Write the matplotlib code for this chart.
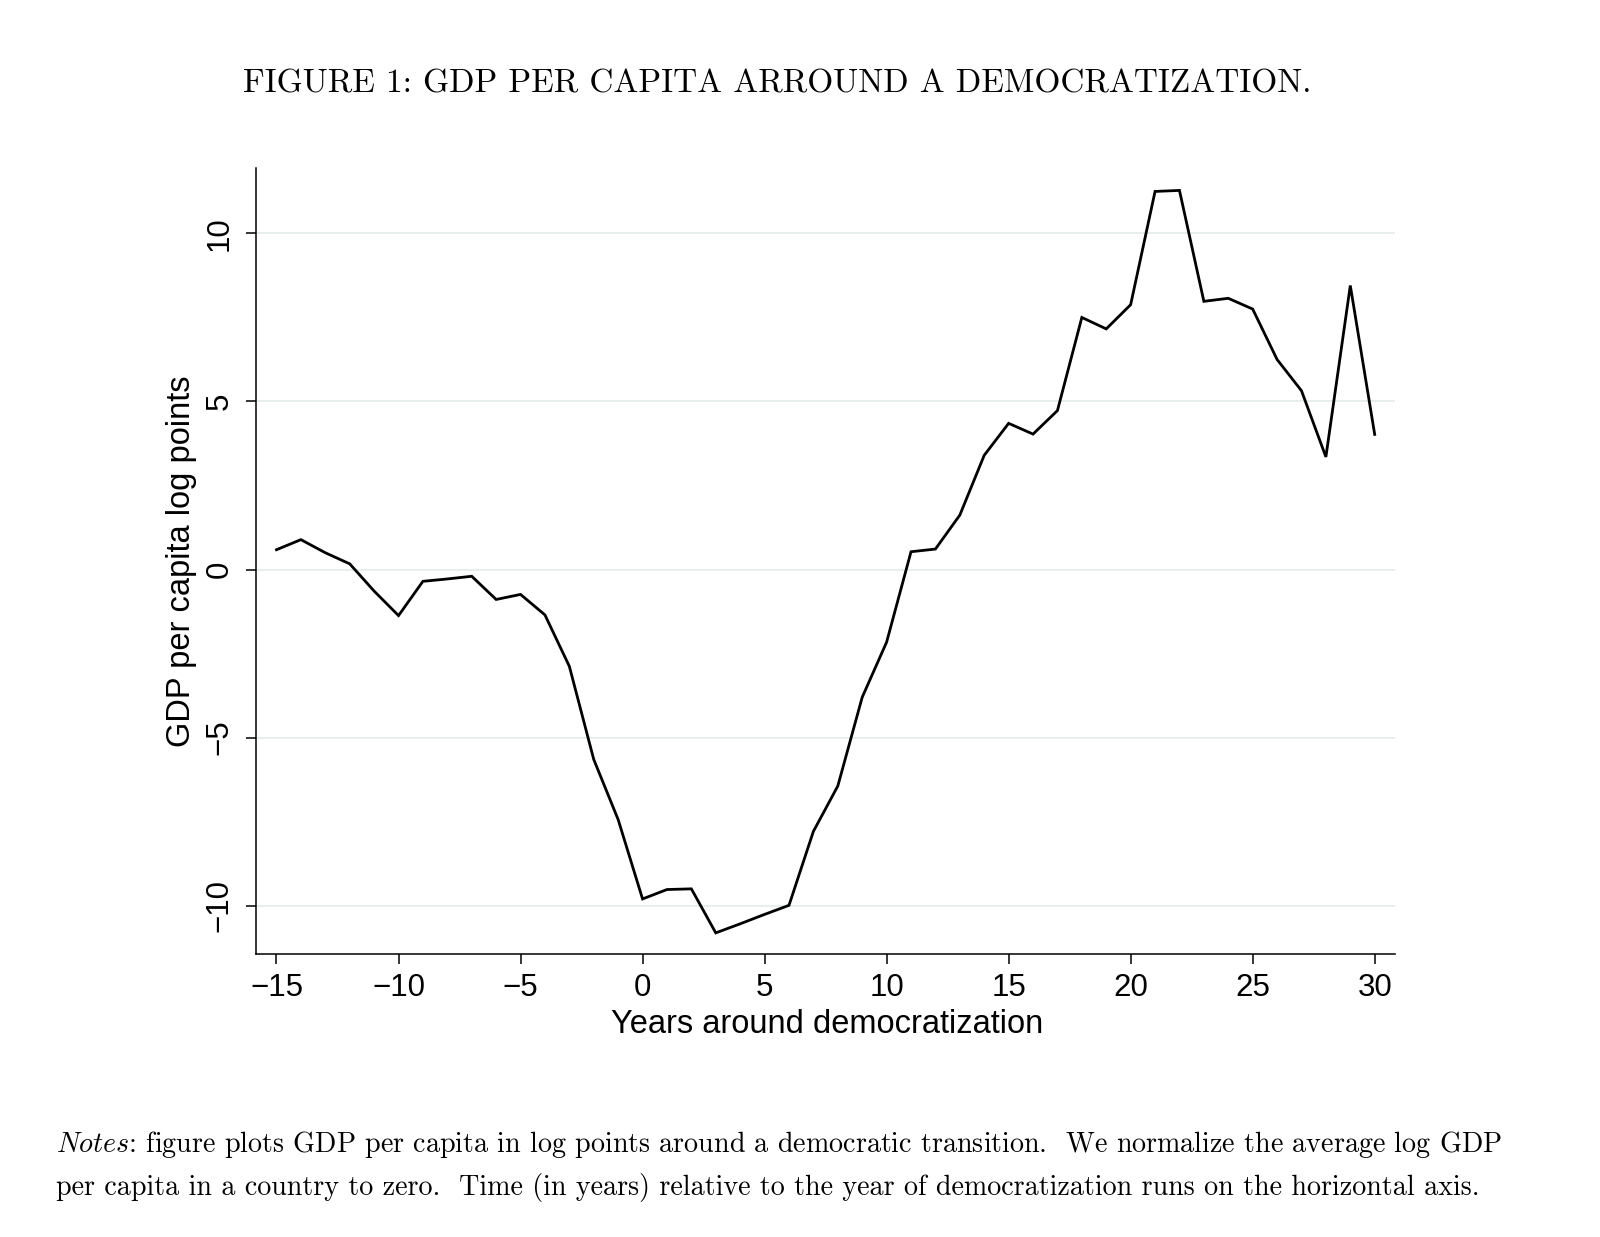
"""
GDP per capita around a democratization (Stata-style line chart)
"""
import matplotlib
matplotlib.use('Agg')
import matplotlib.pyplot as plt

years = list(range(-15, 31))
gdp_log_points = [
    0.59, 0.89, 0.50, 0.17, -0.64, -1.37, -0.35, -0.28, -0.20, -0.89,
    -0.74, -1.35, -2.88, -5.65, -7.44, -9.80, -9.52, -9.50, -10.81, -10.54,
    -10.26, -9.99, -7.79, -6.44, -3.80, -2.16, 0.53, 0.61, 1.62, 3.40,
    4.35, 4.03, 4.73, 7.50, 7.16, 7.88, 11.25, 11.28, 7.98, 8.07,
    7.75, 6.25, 5.32, 3.35, 8.45, 4.02,
]
x_ticks = [-15, -10, -5, 0, 5, 10, 15, 20, 25, 30]
y_ticks = [-10, -5, 0, 5, 10]

title = 'FIGURE 1: GDP PER CAPITA ARROUND A DEMOCRATIZATION.'
x_label = 'Years around democratization'
y_label = 'GDP per capita log points'
note_line1 = (r'$\mathit{Notes}$: figure plots GDP per capita in log points around a '
              'democratic transition.  We normalize the average log GDP')
note_line2 = ('per capita in a country to zero.  Time (in years) relative to the year '
              'of democratization runs on the horizontal axis.')

plt.rcParams['font.family'] = ['Liberation Sans', 'DejaVu Sans']
plt.rcParams['mathtext.fontset'] = 'cm'

fig = plt.figure(figsize=(16, 12.37), dpi=100)
ax = fig.add_axes([0.16, 0.229, 0.712, 0.635])

# light stata gridlines
for y in y_ticks:
    ax.axhline(y=y, color='#e6eeee', linewidth=1.4, zorder=0)

ax.plot(years, gdp_log_points, color='black', linewidth=2.0,
        solid_joinstyle='miter', zorder=2)

ax.set_xlim(-15.84, 30.84)
ax.set_ylim(-11.43, 11.94)
ax.set_xticks(x_ticks)
ax.set_yticks(y_ticks)
ax.set_xticklabels([str(t).replace('-', '\u2212') for t in x_ticks])
ax.set_yticklabels([str(t).replace('-', '\u2212') for t in y_ticks],
                   rotation=90, va='center')

ax.spines['top'].set_visible(False)
ax.spines['right'].set_visible(False)
ax.spines['left'].set_linewidth(1.1)
ax.spines['bottom'].set_linewidth(1.1)
ax.tick_params(axis='both', length=7.5, width=1.1, labelsize=22.5)
ax.tick_params(axis='x', pad=6.5)
ax.tick_params(axis='y', pad=8)

ax.set_xlabel(x_label, fontsize=23.5, va='center')
ax.xaxis.set_label_coords(0.501, -0.09)
ax.set_ylabel(y_label, fontsize=23.5, va='center')
ax.yaxis.set_label_coords(-0.065, 0.5)

fig.text(0.486, 0.932, title, family='cmr10', fontsize=24,
         ha='center', va='center')
fig.text(0.035, 0.075, note_line1, family='cmr10', fontsize=20.2,
         ha='left', va='center')
fig.text(0.035, 0.040, note_line2, family='cmr10', fontsize=20.2,
         ha='left', va='center')

fig.savefig('out.png', dpi=100, facecolor='white')
